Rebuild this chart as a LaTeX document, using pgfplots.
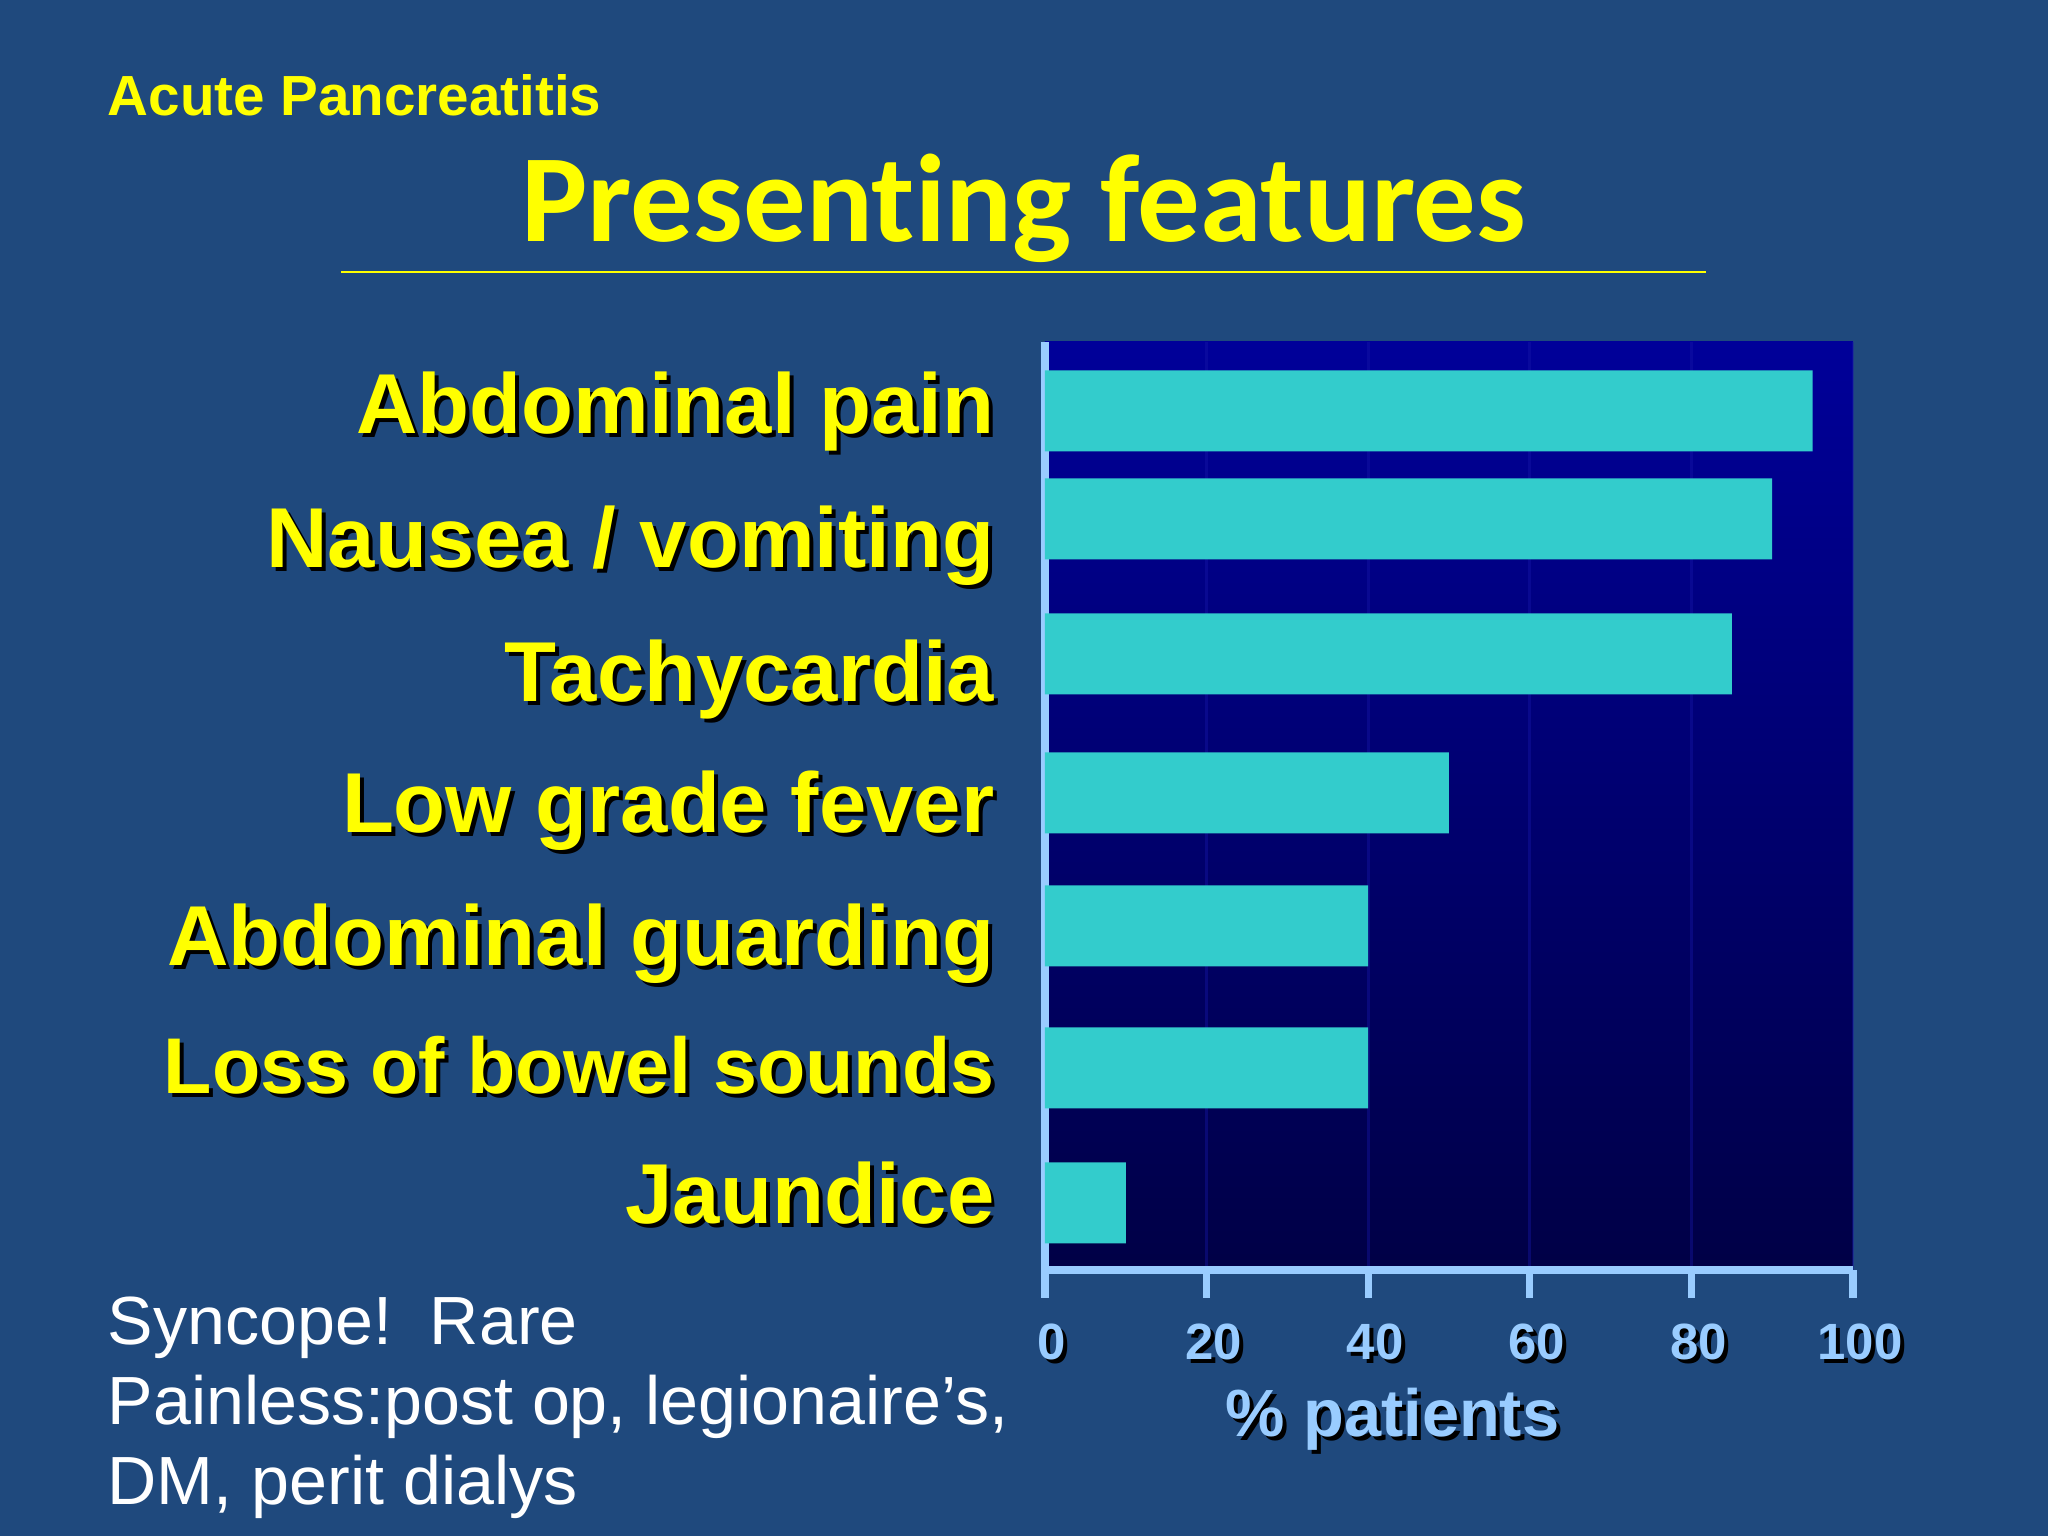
\documentclass[border=0pt]{standalone}
\usepackage{fontspec}
\setmainfont{Liberation Sans}
\newfontfamily\calibri[Ligatures=NoCommon]{Carlito}
\usepackage{pgfplots}
\pgfplotsset{compat=1.18}

\definecolor{slidebg}{HTML}{1F497D}
\definecolor{plottop}{HTML}{000099}
\definecolor{plotbot}{HTML}{000046}
\definecolor{barc}{HTML}{33CCCC}
\definecolor{tickc}{HTML}{99CCFF}
\definecolor{yel}{HTML}{FFFF00}
\definecolor{gridc}{HTML}{1818A8}

% text with a dark drop shadow
\newcommand\shad[2]{\makebox[0pt][l]{\kern0.04cm\raisebox{-0.04cm}{\textcolor{black}{#2}}}\textcolor{#1}{#2}}
\newcommand\catfont{\fontsize{24.2}{29}\selectfont\bfseries}

\begin{document}
\begin{tikzpicture}
\fill[slidebg] (0,0) rectangle (20.48,15.36);

\node[anchor=base west, inner sep=0pt, text=yel, font=\fontsize{16.1}{19}\selectfont\bfseries]
  at (1.07,14.20) {Acute Pancreatitis};
\node[anchor=base, inner sep=0pt, text=yel, font=\calibri\fontsize{35.5}{42}\selectfont\bfseries]
  at (10.24,12.94) {Presenting features};
\draw[yel, line width=0.6pt] (3.41,12.64) -- (17.06,12.64);

\begin{axis}[
  at={(10.45cm,2.66cm)}, anchor=south west,
  scale only axis, width=8.08cm, height=9.28cm,
  xmin=0, xmax=100, ymin=0, ymax=9.28,
  axis x line*=bottom, axis y line*=left,
  axis line style={-, draw=tickc, line width=2.3pt},
  xtick={0,20,40,60,80,100},
  xticklabels={\shad{tickc}{0},\shad{tickc}{20},\shad{tickc}{40},
               \shad{tickc}{60},\shad{tickc}{80},\shad{tickc}{100}},
  ytick=\empty,
  tick align=outside, major tick length=0.28cm,
  tick style={draw=tickc, line width=2pt},
  xticklabel style={font=\fontsize{14.5}{17}\selectfont\bfseries, anchor=base,
                    yshift=-0.62cm, xshift=0.07cm},
  xmajorgrids, major grid style={draw=gridc, draw opacity=0.4, line width=0.8pt},
  axis background/.style={shade, top color=plottop, bottom color=plotbot},
  clip=false,
  xlabel={\shad{tickc}{\% patients}},
  xlabel style={font=\fontsize{19}{23}\selectfont\bfseries,
                at={(rel axis cs:0.43,0)}, anchor=base, yshift=-1.67cm},
]
\addplot[xbar, bar width=0.81cm, fill=barc, draw=none] coordinates {
  (95,8.59) (90,7.51) (85,6.16) (50,4.77) (40,3.44) (40,2.02) (10,0.67)};

\node[anchor=base east, xshift=-0.5cm, inner sep=0pt, font=\catfont] at (axis cs:0,8.36) {\shad{yel}{Abdominal pain}};
\node[anchor=base east, xshift=-0.5cm, inner sep=0pt, font=\catfont] at (axis cs:0,7.02) {\shad{yel}{Nausea / vomiting}};
\node[anchor=base east, xshift=-0.5cm, inner sep=0pt, font=\catfont] at (axis cs:0,5.68) {\shad{yel}{Tachycardia}};
\node[anchor=base east, xshift=-0.5cm, inner sep=0pt, font=\catfont] at (axis cs:0,4.37) {\shad{yel}{Low grade fever}};
\node[anchor=base east, xshift=-0.5cm, inner sep=0pt, font=\catfont] at (axis cs:0,3.04) {\shad{yel}{Abdominal guarding}};
\node[anchor=base east, xshift=-0.5cm, inner sep=0pt, font=\fontsize{22.5}{27}\selectfont\bfseries] at (axis cs:0,1.76) {\shad{yel}{Loss of bowel sounds}};
\node[anchor=base east, xshift=-0.5cm, inner sep=0pt, font=\catfont] at (axis cs:0,0.46) {\shad{yel}{Jaundice}};
\end{axis}

\node[anchor=base west, inner sep=0pt, text=white, font=\fontsize{19.4}{23}\selectfont]
  at (1.07,1.91) {Syncope!\hspace{0.556em}Rare};
\node[anchor=base west, inner sep=0pt, text=white, font=\fontsize{19.4}{23}\selectfont]
  at (1.07,1.11) {Painless:post op, legionaire’s,};
\node[anchor=base west, inner sep=0pt, text=white, font=\fontsize{19.4}{23}\selectfont]
  at (1.07,0.31) {DM, perit dialys};
\end{tikzpicture}
\end{document}
